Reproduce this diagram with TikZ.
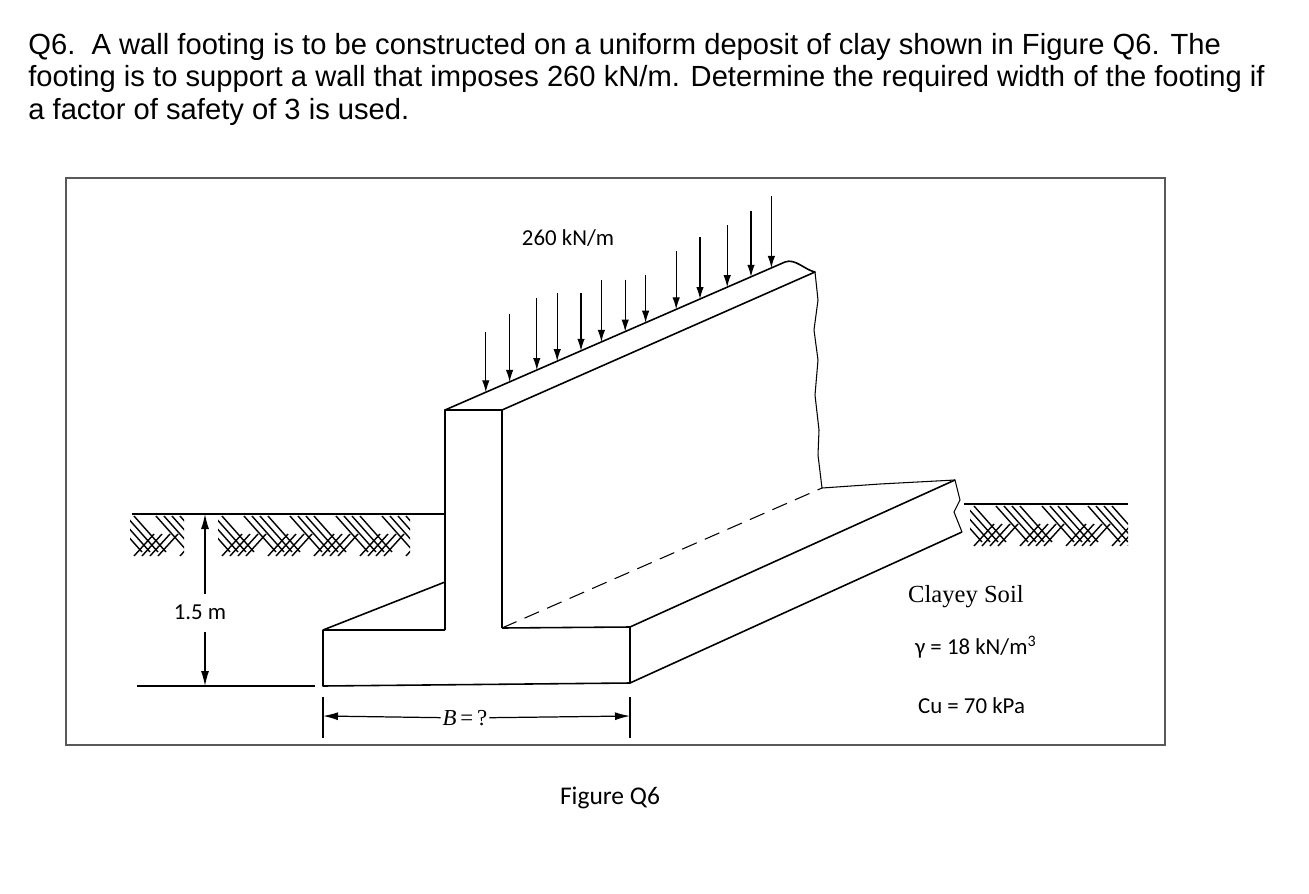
\documentclass[tikz,border=0pt]{standalone}
\usepackage{fontspec}
\setmainfont{Liberation Sans}
\newfontfamily\lblfont{Carlito}
\newfontfamily\serfont{Liberation Serif}
\usetikzlibrary{arrows.meta,calc,positioning}
\tikzset{
  edge/.style={line width=0.9pt,line join=round},
  load/.style={-{Latex[length=2.4mm,width=1.5mm]},line width=0.7pt},
  dimarrow/.style={-{Latex[length=3mm,width=1.6mm]},line width=0.7pt},
  lbl/.style={font=\lblfont\fontsize{13}{15}\selectfont,inner sep=1pt},
  hatch/.style={line width=0.8pt}
}
\newcommand{\hatchband}[3]{% x from, x to, top y
  \begin{scope}
    \clip (#1,#3) rectangle (#2,#3+44);
    \foreach \g in {0,...,5} {
      \pgfmathsetmacro{\gx}{#1-20+\g*46}
      \foreach \k in {0,...,3} {
        \draw[hatch] (\gx+\k*8,#3+2) -- ++(32,36);
        \draw[hatch] (\gx+24+\k*8,#3+42) -- ++(20,-22);
      }
    }
  \end{scope}}
\begin{document}
\begin{tikzpicture}[x=0.02cm,y=-0.02cm]
  \useasboundingbox (0,0) rectangle (1309,893);

  % Question text
  \node[anchor=north west,align=left,inner sep=0pt,font=\fontsize{16.6}{18.4}\selectfont] (question) at (28,33)
    {Q6.\ \ A wall footing is to be constructed on a uniform deposit of clay shown in Figure Q6. The\\
     footing is to support a wall that imposes 260 kN/m. Determine the required width of the footing if\\
     a factor of safety of 3 is used.};

  % Frame
  \draw[line width=0.8pt,gray!70!black] (66,178) rectangle (1165,745);

  % Corners
  \coordinate (wallTL) at (445,410);
  \coordinate (wallTF) at (502,410);
  \coordinate (wallBL) at (445,630);
  \coordinate (wallBF) at (502,628);
  \coordinate (wallBack) at (785,262);
  \coordinate (wallFront) at (815,272);
  \coordinate (footTL) at (323,630);
  \coordinate (footTR) at (630,627);
  \coordinate (footBL) at (323,686);
  \coordinate (footBR) at (630,683);
  \coordinate (footLB) at (445,582);
  \coordinate (footEndT) at (955,480);
  \coordinate (footEndB) at (962,532);
  \coordinate (footBack) at (822,488);

  % Wall
  \draw[edge] (wallBL) -- (wallTL) -- (wallTF) -- (wallBF);
  \draw[edge] (wallTL) -- (wallBack) .. controls (795,258) and (805,270) .. (wallFront) -- (wallTF);
  \draw[line width=0.6pt] (wallFront) -- (818,300) -- (814,330) -- (818,360) -- (815,395) -- (819,430) -- (818,455) -- (footBack);

  % Footing
  \draw[edge] (footLB) -- (footTL) -- (wallBL);
  \draw[edge] (footTL) -- (footBL) -- (footBR) -- (footTR) -- (wallBF);
  \draw[edge] (footTR) -- (footEndT);
  \draw[edge] (footBR) -- (footEndB);
  \draw[line width=0.6pt] (footBack) -- (880,484) -- (footEndT) -- (960,500) -- (954,512) -- (footEndB);
  \draw[edge,dashed,dash pattern=on 9pt off 5pt,line width=0.6pt] (wallBF) -- (footBack);

  % Loads
  \foreach \t/\len in {0.12/60,0.19/68,0.27/72,0.33/68,0.40/58,0.46/62,0.53/52,0.59/48,0.68/58,0.75/62,0.83/62,0.90/66,0.96/72} {
    \coordinate (tip) at ($(wallTL)!\t!(wallBack)$);
    \draw[load] ($(tip)+(0,-\len)$) -- (tip);
  }
  \node[lbl] (loadlbl) at (568,238) {260 kN/m};

  % Ground
  \draw[line width=0.6pt] (132,514) -- (wallTL |- 0,514);
  \hatchband{130}{184}{514}
  \hatchband{218}{410}{514}
  \draw[line width=0.6pt] (964,504) -- (1128,504);
  \hatchband{970}{1128}{504}
  \draw[line width=0.6pt] (137,686) -- (315,686);

  % Dimensions
  \coordinate (dTop) at (205,514);
  \coordinate (dBot) at (205,686);
  \node[lbl] (depth) at (200,612) {1.5 m};
  \draw[dimarrow] (205,594) -- (dTop);
  \draw[dimarrow] (205,632) -- (dBot);
  \draw[line width=0.6pt] (323,697) -- (323,738);
  \draw[line width=0.6pt] (630,697) -- (630,738);
  \coordinate (bL) at (323,716);
  \coordinate (bR) at (630,716);
  \node[font=\serfont\itshape\fontsize{13}{15}\selectfont,fill=white,inner sep=1pt] (width) at (465,718) {B\,{\upshape=\,?}};
  \draw[dimarrow] (width) -- (bL);
  \draw[dimarrow] (width) -- (bR);

  % Soil
  \node[anchor=west,font=\serfont\fontsize{14}{16}\selectfont] (soil) at (902,597) {Clayey Soil};
  \node[lbl,anchor=west] (gamma) at (913,647) {\symbol{"03B3} = 18 kN/m\textsuperscript{3}};
  \node[lbl,anchor=west] (cu) at (916,706) {Cu = 70 kPa};

  \node[font=\lblfont\fontsize{14.5}{16}\selectfont] (caption) at (610,798) {Figure Q6};
\end{tikzpicture}
\end{document}
